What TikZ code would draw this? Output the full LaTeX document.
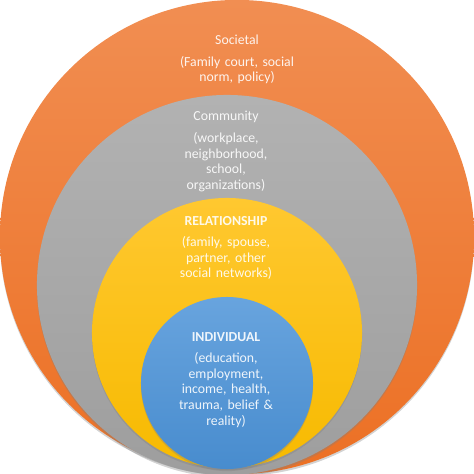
\documentclass[tikz,border=0pt]{standalone}
\usepackage{fontspec}
\setmainfont{Carlito}
\usetikzlibrary{shadows}

\definecolor{socTop}{RGB}{241,142,82}
\definecolor{socBot}{RGB}{236,112,36}
\definecolor{comTop}{RGB}{178,178,178}
\definecolor{comBot}{RGB}{158,158,158}
\definecolor{relTop}{RGB}{255,200,48}
\definecolor{relBot}{RGB}{247,186,0}
\definecolor{indTop}{RGB}{104,164,222}
\definecolor{indBot}{RGB}{72,140,206}

\begin{document}
\begin{tikzpicture}[
                x=0.025cm, y=-0.025cm,
                layer/.style={
                    circle,
                    inner sep=0pt,
                    drop shadow={shadow xshift=0pt, shadow yshift=-1.5pt, opacity=0.35}
                },
                title/.style={
                    text=white,
                    text opacity=0.9,
                    align=center,
                    font=\fontsize{9.8}{11.1}\selectfont
                },
                boldtitle/.style={
                    title,
                    font=\fontsize{9.8}{11.1}\selectfont\bfseries
                },
                desc/.style={
                    title,
                    text width=3.4cm
                }
            ]
    \useasboundingbox (0,0) rectangle (474,474);

    % nested circles, all resting on the bottom
    \node[layer, top color=socTop, bottom color=socBot, minimum size=11.85cm] (societal) at (237,237) {};
    \node[layer, top color=comTop, bottom color=comBot, minimum size=9.5cm]   (community) at (227,285) {};
    \node[layer, top color=relTop, bottom color=relBot, minimum size=6.75cm]  (relationship) at (227,333) {};
    \node[layer, top color=indTop, bottom color=indBot, minimum size=4.3cm]   (individual) at (227,383) {};

    % labels
    \node[title] (socTitle) at (237,40) {Societal};
    \node[desc]  (socDesc)  at (237,70) {(Family court, social\\norm, policy)};

    \node[title] (comTitle) at (226,117) {Community};
    \node[desc]  (comDesc)  at (226,162) {(workplace,\\neighborhood,\\school,\\organizations)};

    \node[boldtitle] (relTitle) at (226,221) {RELATIONSHIP};
    \node[desc]      (relDesc)  at (226,258) {(family, spouse,\\partner, other\\social networks)};

    \node[boldtitle] (indTitle) at (226,337) {INDIVIDUAL};
    \node[desc]      (indDesc)  at (226,390) {(education,\\employment,\\income, health,\\trauma, belief \&\\reality)};
\end{tikzpicture}
\end{document}
